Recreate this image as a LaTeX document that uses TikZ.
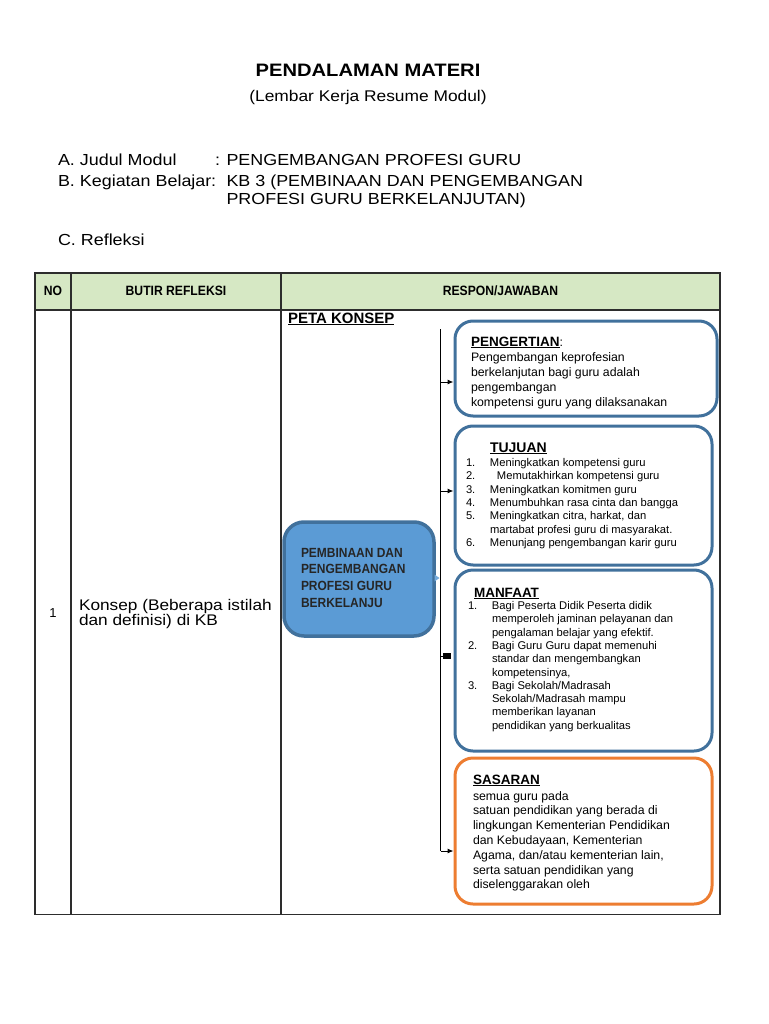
\documentclass[tikz,border=0pt]{standalone}
\usepackage{fontspec}
\setmainfont{Liberation Sans}
\newfontfamily\widefont[FakeStretch=1.12]{Liberation Sans}
\newfontfamily\narrowfont[FakeStretch=0.9]{Liberation Sans}
\usetikzlibrary{arrows.meta}
\definecolor{hdrgreen}{RGB}{214,232,196}
\definecolor{boxblue}{RGB}{65,113,156}
\definecolor{fillblue}{RGB}{91,155,213}
\definecolor{orangeb}{RGB}{237,125,49}
\definecolor{gridline}{RGB}{45,45,45}
\begin{document}
\begin{tikzpicture}[x=1pt,y=-1pt,
  lbl/.style={anchor=base west, inner sep=0pt, outer sep=0pt},
  clbl/.style={anchor=base, inner sep=0pt, outer sep=0pt},
  topfont/.style={font=\widefont\fontsize{16}{19}\selectfont},
  hdr/.style={clbl, font=\narrowfont\bfseries\fontsize{13.5}{15}\selectfont},
  tbl/.style={draw=gridline, line width=1.2pt},
  card/.style={draw=boxblue, line width=3pt, rounded corners=18pt, fill=white,
    anchor=north west, inner sep=0pt, outer sep=0pt},
  orangecard/.style={card, draw=orangeb},
  corebox/.style={card, fill=fillblue, line width=3.5pt, rounded corners=20pt},
  cardhead/.style={lbl, font=\bfseries\fontsize{13.5}{16}\selectfont},
  cardtext/.style={lbl, font=\fontsize{12.3}{15}\selectfont},
  listtext/.style={lbl, font=\fontsize{11.2}{13.3}\selectfont},
  coretext/.style={lbl, font=\narrowfont\bfseries\fontsize{13.3}{16.7}\selectfont, text=black!85},
  conn/.style={line width=1pt, black},
  arr/.style={conn, -{Latex[length=6pt,width=5pt]}, shorten >=1.5pt},
  sqarr/.style={conn, -{Square[length=8pt,width=5.5pt]}}
]
\useasboundingbox (0,0) rectangle (768,1024);
\fill[white] (0,0) rectangle (768,1024);

% ---------- heading ----------
\node[clbl, font=\widefont\bfseries\fontsize{18}{21}\selectfont] (title) at (368,77) {PENDALAMAN MATERI};
\node[clbl, font=\widefont\fontsize{15.5}{18}\selectfont] (subtitle) at (368,102) {(Lembar Kerja Resume Modul)};

\node[lbl, topfont] (a1) at (58,166) {A. Judul Modul};
\node[lbl, topfont] (a2) at (215,166) {:};
\node[lbl, topfont] (a3) at (226.5,166) {PENGEMBANGAN PROFESI GURU};
\node[lbl, topfont] (b1) at (58,187) {B. Kegiatan Belajar};
\node[lbl, topfont] (b2) at (211,187) {:};
\node[lbl, topfont] (b3) at (226.5,187) {KB 3 (PEMBINAAN DAN PENGEMBANGAN};
\node[lbl, topfont] (b4) at (226.5,205) {PROFESI GURU BERKELANJUTAN)};
\node[lbl, topfont] (c1) at (58,245) {C. Refleksi};

% ---------- table ----------
\fill[hdrgreen] (35,273) rectangle (720,310);
\draw[tbl] (35,273) rectangle (720,914.5);
\draw[tbl] (35,310) -- (720,310);
\draw[tbl] (71,273) -- (71,914.5);
\draw[tbl] (281,273) -- (281,914.5);

\node[hdr] (hno) at (53,295) {NO};
\node[hdr] (hbutir) at (176,295) {BUTIR REFLEKSI};
\node[hdr] (hrespon) at (500.5,295) {RESPON/JAWABAN};

\node[clbl, font=\fontsize{13}{16}\selectfont] (no1) at (53,617) {1};
\node[lbl, font=\widefont\fontsize{15.4}{15}\selectfont] (butir1) at (79,610)
  {\begin{tabular}[t]{@{}l@{}}Konsep (Beberapa istilah\\dan definisi) di KB\end{tabular}};

\node[lbl, font=\bfseries\fontsize{15}{18}\selectfont] (peta) at (288,323) {\underline{PETA KONSEP}};

% ---------- central box ----------
\node[corebox, minimum width=150pt, minimum height=114pt] (core) at (284,522) {};
\fill[fillblue!85!white] (434.5,574.5) -- (439.5,578) -- (434.5,581.5) -- cycle;
\node[coretext] (coretxt) at (301,557)
  {\begin{tabular}[t]{@{}l@{}}PEMBINAAN DAN\\PENGEMBANGAN\\PROFESI GURU\\BERKELANJU\end{tabular}};

% ---------- cards ----------
\node[card, minimum width=262pt, minimum height=95pt] (pengertian) at (455,321) {};
\node[card, minimum width=257pt, minimum height=139pt] (tujuan) at (455,426) {};
\node[card, minimum width=257pt, minimum height=181pt] (manfaat) at (455,570) {};
\node[orangecard, minimum width=257pt, minimum height=146pt] (sasaran) at (455,758) {};

% PENGERTIAN
\node[cardhead] (pengh) at (471,346) {\underline{PENGERTIAN}\mdseries\fontsize{12.3}{15}\selectfont:};
\node[cardtext] (pengt) at (471,361)
  {\begin{tabular}[t]{@{}l@{}}Pengembangan keprofesian\\berkelanjutan bagi guru adalah\\pengembangan\\kompetensi guru yang dilaksanakan\end{tabular}};

% TUJUAN
\node[cardhead, font=\bfseries\fontsize{14}{16}\selectfont] (tujh) at (490,452) {\underline{TUJUAN}};
\node[listtext] (tujt) at (466,466.5)
  {\begin{tabular}[t]{@{}p{24pt}@{}l@{}}
  1. & Meningkatkan kompetensi guru\\
  2. & \hspace{7pt}Memutakhirkan kompetensi guru\\
  3. & Meningkatkan komitmen guru\\
  4. & Menumbuhkan rasa cinta dan bangga\\
  5. & Meningkatkan citra, harkat, dan\\
     & martabat profesi guru di masyarakat.\\
  6. & Menunjang pengembangan karir guru
  \end{tabular}};

% MANFAAT
\node[cardhead] (manh) at (474,597) {\underline{MANFAAT}};
\node[listtext] (mant) at (468,609.5)
  {\begin{tabular}[t]{@{}p{24pt}@{}l@{}}
  1. & Bagi Peserta Didik Peserta didik\\
     & memperoleh jaminan pelayanan dan\\
     & pengalaman belajar yang efektif.\\
  2. & Bagi Guru Guru dapat memenuhi\\
     & standar dan mengembangkan\\
     & kompetensinya,\\
  3. & Bagi Sekolah/Madrasah\\
     & Sekolah/Madrasah mampu\\
     & memberikan layanan\\
     & pendidikan yang berkualitas
  \end{tabular}};

% SASARAN
\node[cardhead] (sash) at (473,784) {\underline{SASARAN}};
\node[cardtext, font=\fontsize{12.3}{14.8}\selectfont] (sast) at (473,800)
  {\begin{tabular}[t]{@{}l@{}}semua guru pada\\satuan pendidikan yang berada di\\lingkungan Kementerian Pendidikan\\dan Kebudayaan, Kementerian\\Agama, dan/atau kementerian lain,\\serta satuan pendidikan yang\\diselenggarakan oleh\end{tabular}};

% ---------- connectors ----------
\coordinate (vtop) at (440.5,329);
\coordinate (j1) at (440.5,382);
\coordinate (j2) at (440.5,491);
\coordinate (j3) at (440.5,656);
\coordinate (j4) at (440.5,851);
\draw[conn] (vtop) -- (j4);
\draw[arr] (j1) -- (j1 -| pengertian.west);
\draw[arr] (j2) -- (j2 -| tujuan.west);
\draw[sqarr] (j3) -- ([xshift=-4pt]j3 -| manfaat.west);
\draw[arr] (j4) -- (j4 -| sasaran.west);
\end{tikzpicture}
\end{document}
